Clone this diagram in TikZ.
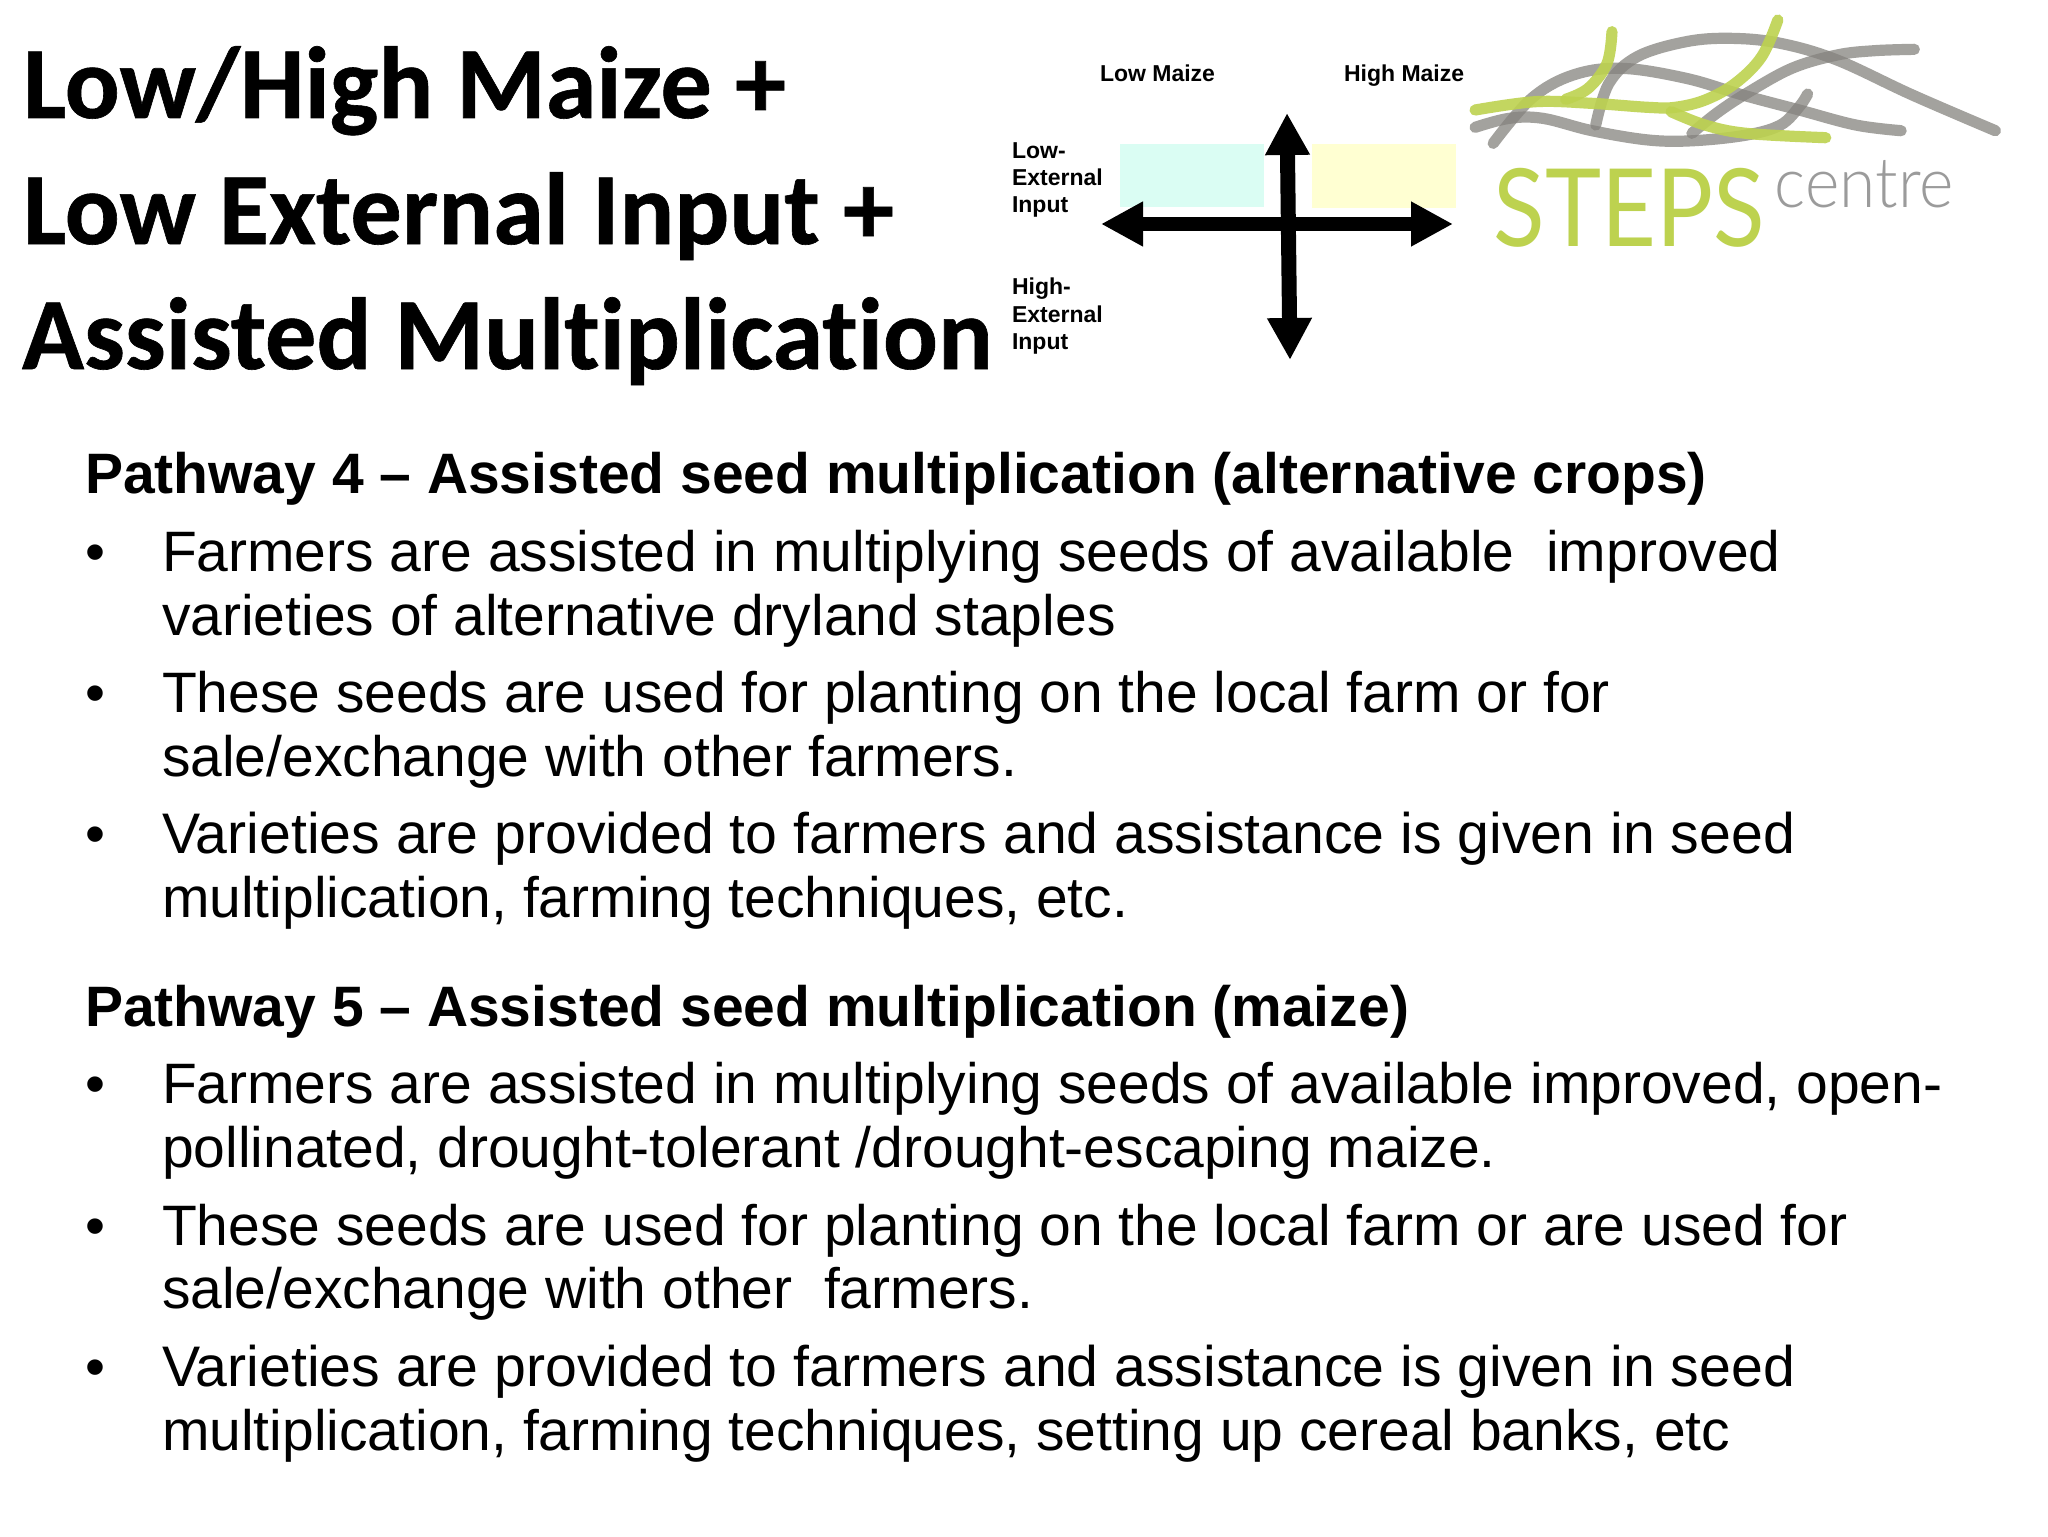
\documentclass[tikz,border=0pt]{standalone}
\usepackage{fontspec}
\setmainfont{Liberation Sans}
\newfontfamily\titlefont[Ligatures=NoCommon,BoldFeatures={FakeBold=0.6}]{Carlito}
\newfontfamily\logofont{Lato}
\newfontfamily\logolight{Lato Light}
\usetikzlibrary{arrows.meta}
\definecolor{logogreen}{HTML}{BDD24F}
\definecolor{logogray}{HTML}{85837E}
\definecolor{centregray}{HTML}{9B9B9B}
\definecolor{boxcyan}{HTML}{DAFDF3}
\definecolor{boxyellow}{HTML}{FFFFD2}
\tikzset{
 x=0.5pt,y=-0.5pt,
 line/.style={anchor=base west,inner sep=0pt,outer sep=0pt},
 titleline/.style={line,font=\titlefont\fontsize{51.2}{60}\bfseries\selectfont,text=black},
 bodyline/.style={line,font=\fontsize{28.5}{32}\selectfont,text=black},
 bodywide/.style={line,font=\fontsize{28.6}{32}\selectfont,text=black},
 headline/.style={line,font=\fontsize{28.5}{32}\bfseries\selectfont,text=black},
 smalltxt/.style={line,font=\fontsize{11.5}{13}\bfseries\selectfont,text=black},
 greenstroke/.style={draw=logogreen,line width=5.6pt,line cap=round,opacity=.9},
 graystroke/.style={draw=logogray,line width=5.6pt,line cap=round,opacity=.75},
 vertarrow/.style={line width=7.5pt,{Triangle[length=21pt,width=21pt]}-{Triangle[length=21pt,width=21pt]}},
 horarrow/.style={line width=7pt,{Triangle[length=21pt,width=21pt]}-{Triangle[length=21pt,width=21pt]}},
}
\begin{document}
\begin{tikzpicture}
\path[use as bounding box,fill=white] (0,0) rectangle (2048,1536);
% title
\node[titleline] (t1) at (23,118) {Low/High Maize +};
\node[titleline] (t2) at (23,244) {Low External Input +};
\node[titleline] (t3) at (22,369) {Assisted Multiplication};
% quadrant
\node[fill=boxcyan,minimum width=72pt,minimum height=31.5pt,inner sep=0pt,anchor=north west] (bc) at (1120,144) {};
\node[fill=boxyellow,minimum width=72pt,minimum height=32pt,inner sep=0pt,anchor=north west] (by) at (1312,144) {};
\coordinate (vt) at (1287,113);
\coordinate (vb) at (1290,360);
\coordinate (hl) at (1101,224);
\coordinate (hr) at (1453,224);
\draw[vertarrow] (vt) -- (vb);
\draw[horarrow] (hl) -- (hr);
\node[smalltxt] (lm) at (1100,82) {Low Maize};
\node[smalltxt] (hm) at (1344,82) {High Maize};
\node[smalltxt] (a1) at (1012,158) {Low-};
\node[smalltxt] (a2) at (1012,185) {External};
\node[smalltxt] (a3) at (1012,212) {Input};
\node[smalltxt] (b1) at (1012,294) {High-};
\node[smalltxt] (b2) at (1012,322) {External};
\node[smalltxt] (b3) at (1012,349) {Input};
% logo
\begin{scope}[shift={(1460,0)},x=0.1885pt,y=-0.1667pt]
\draw[graystroke] plot[smooth,tension=.6] coordinates {(88,430) (190,295) (300,225) (430,205) (600,235) (750,285) (900,330) (1050,375) (1170,392)};
\draw[graystroke] plot[smooth,tension=.6] coordinates {(360,375) (395,250) (470,170) (600,125) (720,115) (850,130) (1000,180) (1200,285) (1420,392)};
\draw[graystroke] plot[smooth,tension=.6] coordinates {(40,382) (130,355) (220,355) (350,392) (500,420) (620,422) (760,405) (850,375) (900,320) (922,282)};
\draw[graystroke] plot[smooth,tension=.6] coordinates {(615,400) (680,340) (760,280) (880,205) (1000,165) (1100,152) (1205,148)};
\draw[greenstroke] plot[smooth,tension=.6] coordinates {(40,330) (200,305) (350,310) (500,322) (570,322) (650,300) (730,250) (800,170) (843,60)};
\draw[greenstroke] plot[smooth,tension=.6] coordinates {(280,298) (340,265) (390,190) (403,95)};
\draw[greenstroke] plot[smooth,tension=.6] coordinates {(560,335) (650,375) (760,400) (970,413)};
\node[line,text=logogreen,font=\logofont\fontsize{54}{56}\selectfont,xscale=.88,transform shape] (steps) at (90,740) {STEPS};
\node[line,text=centregray,font=\logolight\fontsize{35}{37}\selectfont,xscale=.94,transform shape] (centre) at (835,622) {centre};
\end{scope}
% body
\node[headline] (p4) at (85,493.5) {Pathway 4 – Assisted seed multiplication (alternative crops)};
\node[bodyline] (d1) at (85,571.5) {•};
\node[bodyline] (l1) at (162,571.5) {Farmers are assisted in multiplying seeds of available\ \ improved};
\node[bodyline] (l2) at (162,635.5) {varieties of alternative dryland staples};
\node[bodyline] (d2) at (85,712) {•};
\node[bodyline] (l3) at (162,712) {These seeds are used for planting on the local farm or for};
\node[bodyline] (l4) at (162,776) {sale/exchange with other farmers.};
\node[bodyline] (d3) at (85,853) {•};
\node[bodywide] (l5) at (162,853) {Varieties are provided to farmers and assistance is given in seed};
\node[bodyline] (l6) at (162,917) {multiplication, farming techniques, etc.};
\node[headline] (p5) at (85,1026) {Pathway 5 – Assisted seed multiplication (maize)};
\node[bodyline] (d4) at (85,1103) {•};
\node[bodyline] (l7) at (162,1103) {Farmers are assisted in multiplying seeds of available improved, open-};
\node[bodyline] (l8) at (162,1167) {pollinated, drought-tolerant /drought-escaping maize.};
\node[bodyline] (d5) at (85,1245) {•};
\node[bodyline] (l9) at (162,1245) {These seeds are used for planting on the local farm or are used for};
\node[bodyline] (l10) at (162,1308) {sale/exchange with other\ \ farmers.};
\node[bodyline] (d6) at (85,1386) {•};
\node[bodywide] (l11) at (162,1386) {Varieties are provided to farmers and assistance is given in seed};
\node[bodyline] (l12) at (162,1450) {multiplication, farming techniques, setting up cereal banks, etc};
\end{tikzpicture}
\end{document}
